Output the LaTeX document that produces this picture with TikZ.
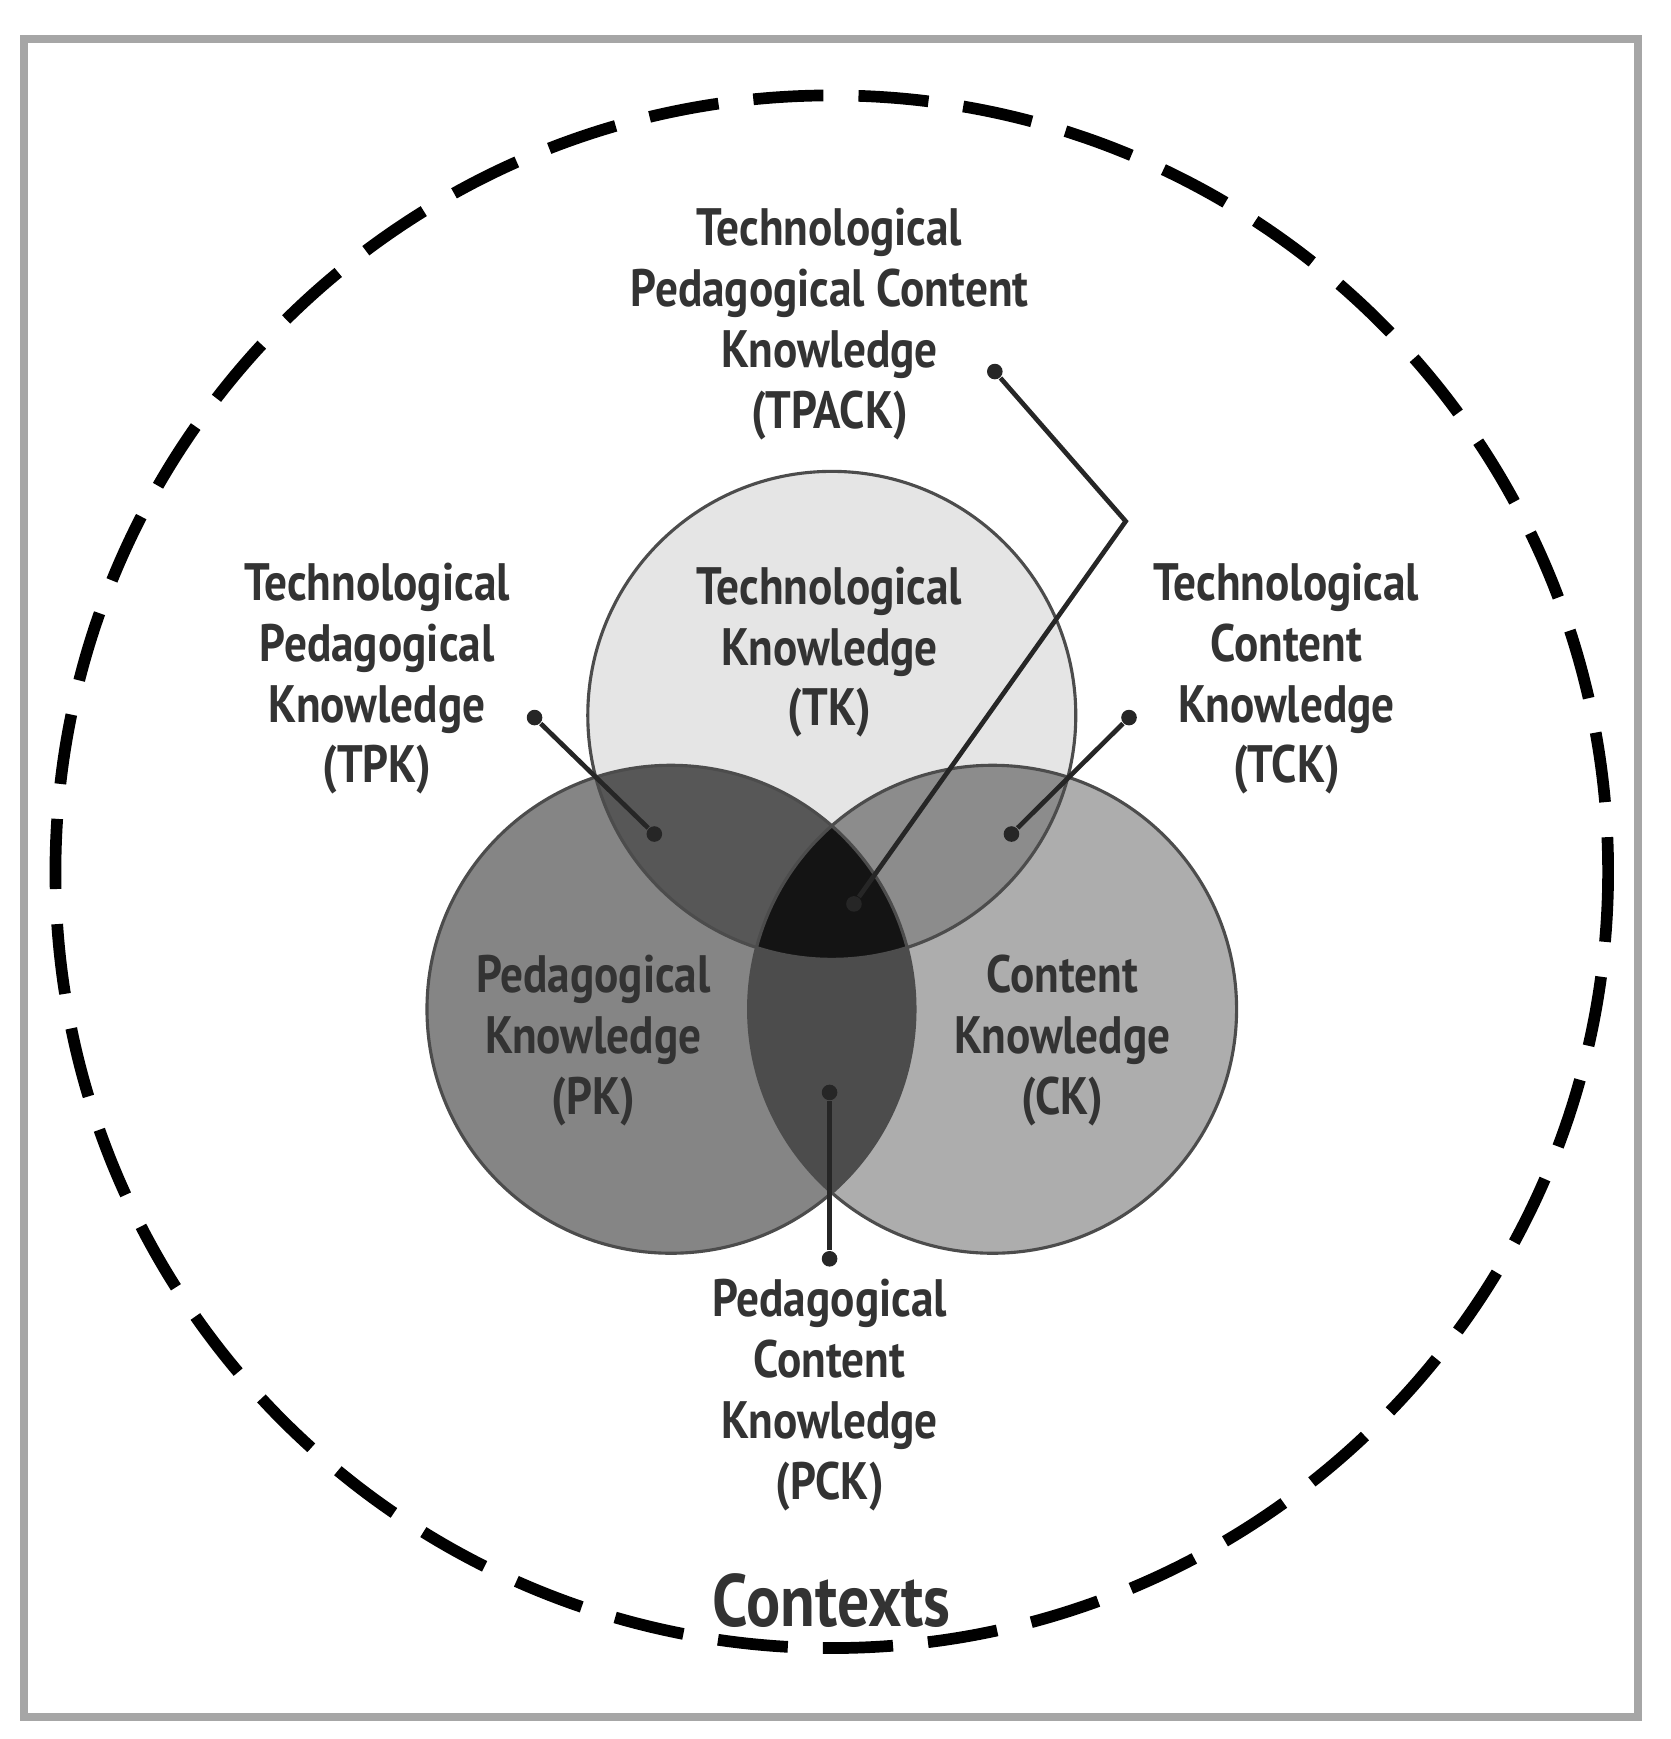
\documentclass[tikz,border=0pt]{standalone}
\usepackage{fontspec}
\setmainfont{PT Sans}[FakeStretch=0.86]
\begin{document}
\begin{tikzpicture}[x=0.01cm,y=-0.01cm,
  lbl/.style={align=center,font=\bfseries\fontsize{13.5}{15.6}\selectfont,text=black!80,inner sep=0pt},
  lead/.style={line width=1.2pt,black!85},
  dotc/.style={circle,fill=black!85,inner sep=0pt,minimum size=4pt}]
\useasboundingbox (0,0) rectangle (1506,1568);
\fill[white] (0,0) rectangle (1506,1568);
\draw[gray!70,line width=2pt] (22,35) rectangle (1477,1548);
\draw[line width=3pt,dash pattern=on 18pt off 9pt] (750,786) circle (700);
% circles
\coordinate (tk) at (750,645); \coordinate (pk) at (605,910); \coordinate (ck) at (895,910);
\fill[black!10] (tk) circle (220);
\fill[black!48] (pk) circle (220);
\fill[black!32] (ck) circle (220);
\begin{scope}\clip (tk) circle (220); \fill[black!66] (pk) circle (220); \fill[black!45] (ck) circle (220);\end{scope}
\begin{scope}\clip (pk) circle (220); \fill[black!70] (ck) circle (220);
\clip (ck) circle (220); \fill[black!92] (tk) circle (220);\end{scope}
\draw[black!70,line width=0.8pt] (tk) circle (220) (pk) circle (220) (ck) circle (220);
% labels
\node[lbl] (tpack) at (748,292) {Technological\\Pedagogical Content\\Knowledge\\(TPACK)};
\node[lbl] (tpk) at (340,612) {Technological\\Pedagogical\\Knowledge\\(TPK)};
\node[lbl] (tkl) at (748,588) {Technological\\Knowledge\\(TK)};
\node[lbl] (tck) at (1160,612) {Technological\\Content\\Knowledge\\(TCK)};
\node[lbl] (pkl) at (535,938) {Pedagogical\\Knowledge\\(PK)};
\node[lbl] (ckl) at (958,938) {Content\\Knowledge\\(CK)};
\node[lbl] (pck) at (748,1258) {Pedagogical\\Content\\Knowledge\\(PCK)};
\node[lbl,font=\bfseries\fontsize{19}{22}\selectfont] (ctx) at (750,1443) {Contexts};
% leaders
\node[dotc] (a1) at (897,335) {}; \node[dotc] (a2) at (770,815) {};
\coordinate (ab) at (1015,470);
\draw[lead] (a1) -- (ab) -- (a2);
\node[dotc] (b1) at (482,647) {}; \node[dotc] (b2) at (590,752) {};
\draw[lead] (b1) -- (b2);
\node[dotc] (c1) at (1018,647) {}; \node[dotc] (c2) at (912,752) {};
\draw[lead] (c1) -- (c2);
\node[dotc] (d1) at (748,985) {}; \node[dotc] (d2) at (748,1135) {};
\draw[lead] (d1) -- (d2);
\end{tikzpicture}
\end{document}
